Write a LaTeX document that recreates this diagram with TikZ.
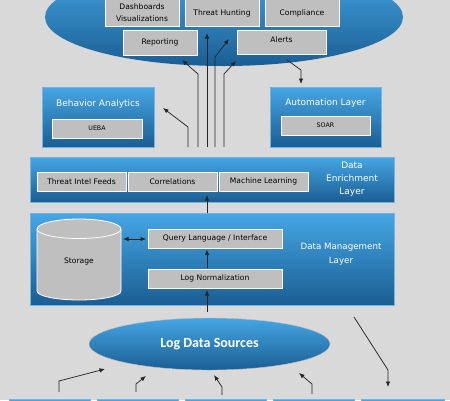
\documentclass[tikz,border=0pt]{standalone}
\usepackage{fontspec}
\setmainfont{DejaVu Sans}
\newfontfamily\calibrifont{Carlito}
\usetikzlibrary{arrows.meta,shapes.geometric}

\definecolor{bggray}{HTML}{D9D9D9}
\definecolor{boxgray}{HTML}{BFBFBF}
\definecolor{bluetop}{HTML}{46A6E4}
\definecolor{bluebot}{HTML}{1A5E93}
\definecolor{blueedge}{HTML}{6FB6E6}

\tikzset{every picture/.style={line width=0.75pt}}
\tikzset{
  layerpanel/.style={top color=bluetop, bottom color=bluebot, draw=blueedge, line width=0.4pt, inner sep=0pt},
  itembox/.style={draw=white, line width=0.8pt, fill=boxgray, inner sep=0pt, align=center, font=\fontsize{7.6}{12}\selectfont},
  tinybox/.style={itembox, font=\fontsize{6.3}{8}\selectfont},
  paneltitle/.style={text=white, align=center, inner sep=0pt, font=\fontsize{9}{13}\selectfont},
  flow/.style={draw=black!85, line width=0.75pt, -{Latex[length=5.5pt,width=4.5pt]}},
}

\begin{document}
\begin{tikzpicture}[x=1pt,y=1pt,yscale=-1,xscale=1]
\fill[bggray] (0,0) rectangle (450,400);
\useasboundingbox (0,0) rectangle (450,400);

%Shape: Ellipse [presentation layer]
\node[ellipse, layerpanel, draw=none, minimum width=358, minimum height=98] (toplayer) at (224,17) {};
\node[itembox, minimum width=74, minimum height=27] (dashviz) at (142,13) {Dashboards\\Visualizations};
\node[itembox, minimum width=74, minimum height=27] (hunting) at (222,13) {Threat Hunting};
\node[itembox, minimum width=74, minimum height=27] (compliance) at (302,13) {Compliance};
\node[itembox, minimum width=74, minimum height=25] (reporting) at (160,42.5) {Reporting};
\node[itembox, minimum width=89, minimum height=24, text depth=4pt] (alerts) at (281.5,42) {Alerts};

%Shape: Rectangle [side panels]
\node[layerpanel, minimum width=112, minimum height=60] (behavior) at (98,117) {};
\node[paneltitle] (behaviortitle) at (98,104) {Behavior Analytics};
\node[tinybox, minimum width=90, minimum height=19] (ueba) at (97,128.5) {UEBA};
\node[layerpanel, minimum width=111, minimum height=60] (automation) at (325.5,117) {};
\node[paneltitle] (automationtitle) at (325.5,103) {Automation Layer};
\node[tinybox, minimum width=89, minimum height=19] (soar) at (325.5,125.5) {SOAR};

%Shape: Rectangle [enrichment band]
\node[layerpanel, minimum width=364, minimum height=45] (enrichment) at (212,179.5) {};
\node[itembox, minimum width=89, minimum height=19] (intel) at (81.5,181.5) {Threat Intel Feeds};
\node[itembox, minimum width=89, minimum height=19] (correl) at (172.5,181.5) {Correlations};
\node[itembox, minimum width=89, minimum height=19] (mlearn) at (263.5,181.5) {Machine Learning};
\node[paneltitle] (enrichtitle) at (352,179) {Data\\Enrichment\\Layer};

%Shape: Rectangle [management band]
\node[layerpanel, minimum width=364, minimum height=92] (management) at (212,259) {};
%Shape: Can [storage]
\filldraw[draw=white, line width=0.8pt, fill=boxgray] (37,229) arc[start angle=180, end angle=360, x radius=42, y radius=10] -- (121,291) arc[start angle=0, end angle=180, x radius=42, y radius=9] -- cycle;
\draw[white, line width=0.8pt] (37,229) arc[start angle=180, end angle=0, x radius=42, y radius=9.5];
\node[inner sep=0pt, font=\fontsize{7.6}{9}\selectfont] (storage) at (79,261) {Storage};
\node[itembox, minimum width=134, minimum height=19] (query) at (215,238.5) {Query Language / Interface};
\node[itembox, minimum width=134, minimum height=19] (lognorm) at (215,278.5) {Log Normalization};
\node[paneltitle, font=\fontsize{8.7}{14}\selectfont] (mgmttitle) at (341,254) {Data Management\\Layer};

%Shape: Ellipse [sources]
\node[ellipse, layerpanel, draw=black!25, minimum width=241, minimum height=52, text=white, font=\calibrifont\bfseries\fontsize{14}{16}\selectfont] (logsrc) at (209.5,344) {Log Data Sources};

%Shape: Rectangle [source boxes, cut at the page edge]
\node[layerpanel, minimum width=81, minimum height=30] (srca) at (49.5,414) {};
\node[layerpanel, minimum width=81, minimum height=30] (srcb) at (137.5,414) {};
\node[layerpanel, minimum width=81, minimum height=30] (srcc) at (225.5,414) {};
\node[layerpanel, minimum width=81, minimum height=30] (srcd) at (313.5,414) {};
\node[layerpanel, minimum width=83, minimum height=30] (srce) at (402.5,414) {};

% connector ends
\coordinate (fana) at (188,147);
\coordinate (fanb) at (198,147);
\coordinate (fanc) at (207,147);
\coordinate (fand) at (215,147);
\coordinate (fane) at (224,147);
\coordinate (tipa) at (163,108);
\coordinate (tipb) at (182,60);
\coordinate (tipc) at (207,33);
\coordinate (tipd) at (229,39);
\coordinate (tipe) at (236,61);
\coordinate (alertfoot) at (287,60);
\coordinate (autotip) at (301,84);
\coordinate (mgmttop) at (207,213);
\coordinate (enrichtip) at (207,195);
\coordinate (srctop) at (207,312);
\coordinate (normtip) at (207,290);
\coordinate (storeright) at (123,239);
\coordinate (querywest) at (146,239);
\coordinate (normtop) at (207,268);
\coordinate (querytip) at (207,249.5);
\coordinate (outfoot) at (354,317);
\coordinate (outtip) at (388,387);

% connectors
\draw[flow] (fana) -- (188,127) -- (tipa);
\draw[flow] (fanb) -- (198,74) -- (tipb);
\draw[flow] (fanc) -- (tipc);
\draw[flow] (fand) -- (215,57) -- (tipd);
\draw[flow] (fane) -- (224,74) -- (tipe);
\draw[flow] (alertfoot) -- (301,70) -- (autotip);
\draw[flow] (mgmttop) -- (enrichtip);
\draw[flow] (srctop) -- (normtip);
\draw[flow] (normtop) -- (querytip);
\draw[flow, {Latex[length=5.5pt,width=4.5pt]}-{Latex[length=5.5pt,width=4.5pt]}] (storeright) -- (querywest);
\draw[flow] (59,392) -- (59,381) -- (105,369);
\draw[flow] (136,392) -- (136,384) -- (146,376);
\draw[flow] (222,395) -- (222,387) -- (214,375);
\draw[flow] (312,394) -- (312,384) -- (299,373);
\draw[flow] (outfoot) -- (388,370) -- (outtip);

\end{tikzpicture}
\end{document}
